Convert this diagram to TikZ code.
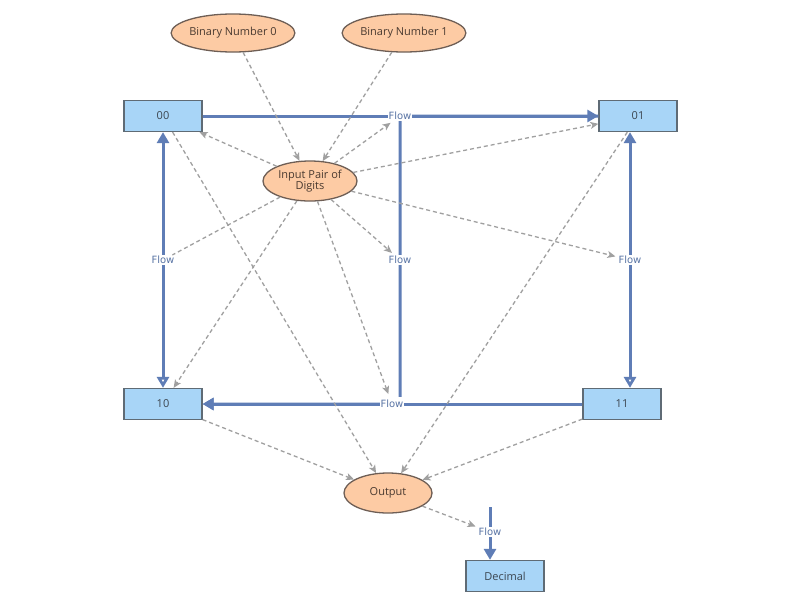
\documentclass[tikz,border=0pt]{standalone}
\usepackage{fontspec}
\setmainfont{Open Sans}
\newfontfamily\flowfont{DejaVu Sans}
\usetikzlibrary{shapes.geometric,arrows.meta}
\definecolor{peach}{HTML}{FDCBA4}
\definecolor{peachline}{HTML}{6E5E55}
\definecolor{stockfill}{HTML}{A8D5F7}
\definecolor{stockline}{HTML}{5F6B75}
\definecolor{flowblue}{HTML}{5F7DB6}
\definecolor{flowtext}{HTML}{5A75A5}
\definecolor{linkgrey}{HTML}{A0A0A0}
\definecolor{vartext}{HTML}{4A3A30}
\definecolor{stocktext}{HTML}{3C4650}
\tikzset{
  var/.style={ellipse, draw=peachline, fill=peach, line width=1.3pt, inner sep=0pt,
    minimum width=94pt, minimum height=38pt, align=center, text=vartext,
    font=\fontsize{11}{12.5}\selectfont},
  stock/.style={rectangle, draw=stockline, fill=stockfill, line width=1.3pt, inner sep=0pt,
    minimum width=78pt, minimum height=31pt, text=stocktext, font=\fontsize{11}{12}\selectfont},
  flow/.style={draw=flowblue, line width=3pt, -{Triangle[length=11pt,width=12pt]}},
  flowlbl/.style={fill=white, inner sep=1pt, text=flowtext, font=\flowfont\fontsize{10}{11}\selectfont},
  link/.style={draw=linkgrey, line width=1.3pt, dash pattern=on 4pt off 3pt,
    -{Stealth[length=8pt,width=7pt,inset=2pt]}},
  nolink/.style={draw=linkgrey, line width=1.3pt, dash pattern=on 4pt off 3pt}
}
\begin{document}
\begin{tikzpicture}[x=1pt,y=-1pt]
\path[fill=white,use as bounding box] (0,0) rectangle (800,600);

% variables
\node[var] (b0) at (233,33) {Binary Number 0};
\node[var] (b1) at (404,33) {Binary Number 1};
\node[var, minimum height=40pt] (inp) at (310,181) {Input Pair of\\[-1pt]Digits};
\node[var, minimum width=88pt, minimum height=40pt] (out) at (388,493) {Output};

% stocks
\node[stock] (s00) at (163,116) {00};
\node[stock] (s01) at (638,116) {01};
\node[stock] (s10) at (163,404) {10};
\node[stock] (s11) at (622,404) {11};
\node[stock] (dec) at (505,576) {Decimal};

% label anchors
\coordinate (ptop) at (400,116);
\coordinate (pleft) at (163,260);
\coordinate (pright) at (630,260);
\coordinate (pmid) at (400,260);
\coordinate (pbot) at (392,404);
\coordinate (pdec) at (490,532);
\coordinate (dsrc) at (490,507);

% flows
\draw[flow] (s00.east) -- (s01.west);
\draw[flow] (s11.west) -- (s10.east);
\draw[flow, {Triangle[length=11pt,width=12pt]}-{Triangle[open,length=11pt,width=12pt,fill=white]}]
  (pleft |- s00.south) -- (pleft |- s10.north);
\draw[flow, {Triangle[length=11pt,width=12pt]}-{Triangle[open,length=11pt,width=12pt,fill=white]}]
  (pright |- s01.south) -- (pright |- s11.north);
\draw[flow, rounded corners=6pt] (s01.west) -- (pmid |- s01.west) -- (pmid |- s10.east) -- (s10.east);
\draw[flow] (dsrc) -- (dsrc |- dec.north);

% flow labels
\node[flowlbl] (ltop) at (ptop) {Flow};
\node[flowlbl] (lleft) at (pleft) {Flow};
\node[flowlbl] (lright) at (pright) {Flow};
\node[flowlbl] (lmid) at (pmid) {Flow};
\node[flowlbl, inner ysep=3pt] (lbot) at (pbot) {Flow};
\node[flowlbl] (ldec) at (pdec) {Flow};

% links
\draw[link] (b0) -- (inp);
\draw[link] (b1) -- (inp);
\draw[link] (inp) -- (s00);
\draw[link, shorten >=3pt] (inp) -- (ltop);
\draw[link] (inp) -- (s01);
\draw[nolink] (inp) -- (lleft);
\draw[link, shorten >=3pt] (inp) -- (lmid);
\draw[link, shorten >=2pt] (inp) -- (lright);
\draw[link] (inp) -- (s10);
\draw[link, shorten >=3pt] (inp) -- (lbot);
\draw[link] (s00) -- (out);
\draw[link] (s01) -- (out);
\draw[link] (s10) -- (out);
\draw[link] (s11) -- (out);
\draw[link, shorten >=2pt] (out) -- (ldec);
\end{tikzpicture}
\end{document}
